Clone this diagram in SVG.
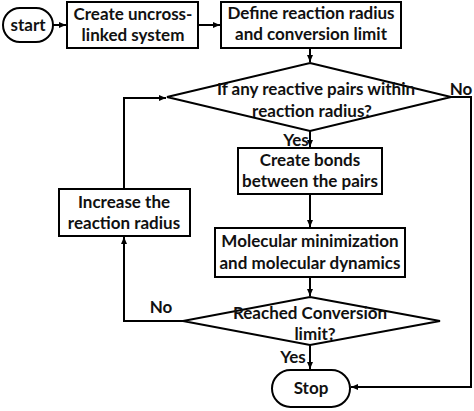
<svg xmlns="http://www.w3.org/2000/svg" width="474" height="411" viewBox="0 0 474 411">
<style>
.s{fill:#fff;stroke:#000;stroke-width:2}
.t{font-family:Lato,"Open Sans",sans-serif;font-weight:bold;font-size:17px;fill:#111;text-anchor:middle}
.c{fill:none;stroke:#000;stroke-width:2}
</style>
<defs>
<marker id="a" markerWidth="8" markerHeight="8" refX="7" refY="4" orient="auto" markerUnits="userSpaceOnUse">
<path d="M0,1 L7,4 L0,7 z" fill="#000"/>
</marker>
</defs>
<rect width="474" height="411" fill="#fff"/>
<g id="connectors">
<path class="c" d="M53,25 H66" marker-end="url(#a)"/>
<path class="c" d="M198,25 H220" marker-end="url(#a)"/>
<path class="c" d="M310,48 V62" marker-end="url(#a)"/>
<path class="c" d="M310,131 V147" marker-end="url(#a)"/>
<path class="c" d="M310,194 V227" marker-end="url(#a)"/>
<path class="c" d="M310,277 V296" marker-end="url(#a)"/>
<path class="c" d="M310,345 V369" marker-end="url(#a)"/>
<path class="c" d="M451,97 H471 V387 H351" marker-end="url(#a)"/>
<path class="c" d="M183,321 H124 V237" marker-end="url(#a)"/>
<path class="c" d="M124,189 V98 H166" marker-end="url(#a)"/>
<text class="t" x="296" y="146">Yes</text>
<text class="t" x="293" y="363">Yes</text>
<text class="t" x="461" y="95">No</text>
<text class="t" x="161" y="313">No</text>
</g>
<g id="start">
<rect class="s" x="3" y="8" width="50" height="34" rx="17"/>
<text class="t" x="28" y="31">start</text>
</g>
<g id="create-system">
<rect class="s" x="67" y="2" width="131" height="46"/>
<text class="t" x="133" y="20">Create uncross-</text>
<text class="t" x="133" y="41">linked system</text>
</g>
<g id="define">
<rect class="s" x="221" y="2" width="180" height="46"/>
<text class="t" x="311" y="19">Define reaction radius</text>
<text class="t" x="311" y="40">and conversion limit</text>
</g>
<g id="decision1">
<path class="s" d="M310,63 L451,97 L310,131 L167,97 Z"/>
<text class="t" x="316" y="95">If any reactive pairs within</text>
<text class="t" x="312" y="117">reaction radius?</text>
</g>
<g id="create-bonds">
<rect class="s" x="238" y="148" width="144" height="46"/>
<text class="t" x="310" y="166">Create bonds</text>
<text class="t" x="310" y="187">between the pairs</text>
</g>
<g id="minimization">
<rect class="s" x="215" y="228" width="190" height="49"/>
<text class="t" x="310" y="247">Molecular minimization</text>
<text class="t" x="310" y="269">and molecular dynamics</text>
</g>
<g id="increase">
<rect class="s" x="59" y="189" width="131" height="47"/>
<text class="t" x="124" y="208">Increase the</text>
<text class="t" x="124" y="229">reaction radius</text>
</g>
<g id="decision2">
<path class="s" d="M310,297 L440,321 L310,345 L183,321 Z"/>
<text class="t" x="310" y="319">Reached Conversion</text>
<text class="t" x="315" y="340">limit?</text>
</g>
<g id="stop">
<rect class="s" x="272" y="370" width="78" height="37" rx="18.5"/>
<text class="t" x="311" y="394">Stop</text>
</g>
</svg>
